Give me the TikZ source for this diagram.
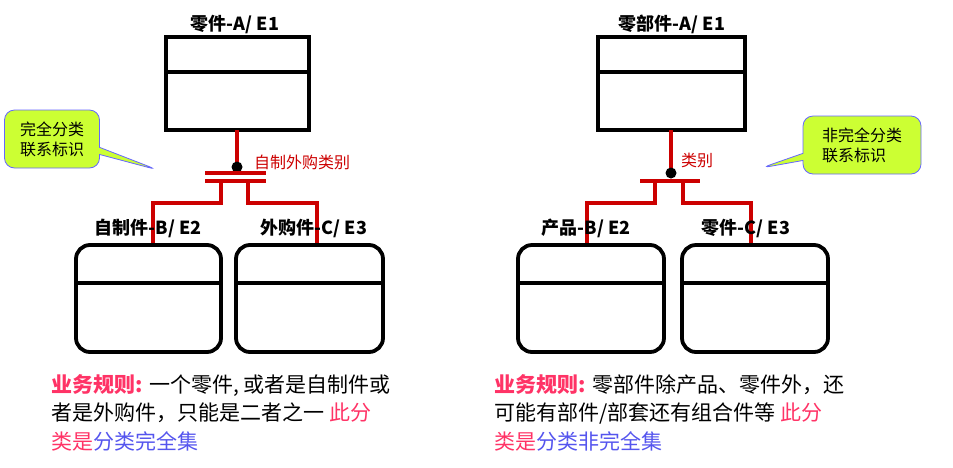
\documentclass[tikz,border=0pt]{standalone}
\usepackage{fontspec}
\setmainfont{Noto Sans CJK SC}
\usetikzlibrary{shapes.callouts}
\definecolor{rel}{HTML}{CC0000}
\definecolor{pinkt}{HTML}{FF3366}
\definecolor{bluet}{HTML}{5555EE}
\definecolor{callg}{HTML}{CCFF33}
\tikzset{
  ent/.style={draw=black,line width=3.8pt},
  rl/.style={draw=rel,line width=4.2pt},
  lbl/.style={font=\fontsize{18}{20}\selectfont\bfseries,anchor=center},
  call/.style={rectangle callout,rounded corners=10pt,fill=callg,draw=blue!60,line width=0.8pt,align=left,font=\fontsize{16}{20}\selectfont,inner sep=6pt},
  rule/.style={font=\fontsize{21}{28}\selectfont,anchor=west}
}
\begin{document}
\begin{tikzpicture}[x=1pt,y=-1pt]
\useasboundingbox (0,0) rectangle (953,467);
% ---- left ----
\node[lbl] (la) at (235,24) {零件-A/ E1};
\draw[ent] (166,37) rectangle (309,130);
\draw[ent] (166,72) -- (309,72);
\coordinate (ls) at (237,130);
\coordinate (ld) at (237,167);
\draw[rl] (ls) -- (ld);
\fill (ld) circle (5.5);
\draw[rl] (205,173) -- (266,173);
\draw[rl] (205,181) -- (266,181);
\draw[rl] (221,181) -- (221,203) -- (153,203) -- (153,247);
\draw[rl] (248,181) -- (248,203) -- (317,203) -- (317,247);
\node[font=\fontsize{16}{18}\selectfont,text=rel,anchor=west,inner sep=0] (lcat) at (254,162) {自制外购类别};
\draw[ent,rounded corners=14pt] (76,352) -- (76,245) -- (221,245) -- (221,352) -- cycle;
\draw[ent] (76,283) -- (221,283);
\draw[ent,rounded corners=14pt] (236,352) -- (236,245) -- (383,245) -- (383,352) -- cycle;
\draw[ent] (236,283) -- (383,283);
\node[lbl] (lb) at (148,228) {自制件-B/ E2};
\node[lbl] (lc) at (314,228) {外购件-C/ E3};
\node[call,callout absolute pointer={(158,170)},minimum width=95pt,minimum height=58pt] (lcall) at (52,139) {完全分类\\联系标识};
\node[rule] (lr1) at (48,385) {\textcolor{pinkt}{\bfseries 业务规则:} 一个零件, 或者是自制件或};
\node[rule] (lr2) at (48,413) {者是外购件，只能是二者之一 \textcolor{pinkt}{此分}};
\node[rule] (lr3) at (48,441) {\textcolor{pinkt}{类是}\textcolor{bluet}{分类完全集}};
% ---- right ----
\node[lbl] (ra) at (672,24) {零部件-A/ E1};
\draw[ent] (598,37) rectangle (745,130);
\draw[ent] (598,72) -- (745,72);
\coordinate (rs) at (671,130);
\coordinate (rd) at (671,173);
\draw[rl] (rs) -- (rd);
\fill (rd) circle (5.5);
\draw[rl] (640,181) -- (700,181);
\draw[rl] (655,181) -- (655,203) -- (587,203) -- (587,247);
\draw[rl] (683,181) -- (683,203) -- (751,203) -- (751,247);
\node[font=\fontsize{16}{18}\selectfont,text=rel,anchor=west,inner sep=0] (rcat) at (681,160) {类别};
\draw[ent,rounded corners=14pt] (518,352) -- (518,245) -- (664,245) -- (664,352) -- cycle;
\draw[ent] (518,283) -- (664,283);
\draw[ent,rounded corners=14pt] (682,352) -- (682,245) -- (828,245) -- (828,352) -- cycle;
\draw[ent] (682,283) -- (828,283);
\node[lbl] (rb) at (586,228) {产品-B/ E2};
\node[lbl] (rc) at (746,228) {零件-C/ E3};
\node[call,callout absolute pointer={(761,168)},minimum width=118pt,minimum height=58pt] (rcall) at (862,145) {非完全分类\\联系标识};
\node[rule] (rr1) at (491,385) {\textcolor{pinkt}{\bfseries 业务规则:} 零部件除产品、零件外，还};
\node[rule] (rr2) at (491,413) {可能有部件/部套还有组合件等 \textcolor{pinkt}{此分}};
\node[rule] (rr3) at (491,441) {\textcolor{pinkt}{类是}\textcolor{bluet}{分类非完全集}};
\end{tikzpicture}
\end{document}
